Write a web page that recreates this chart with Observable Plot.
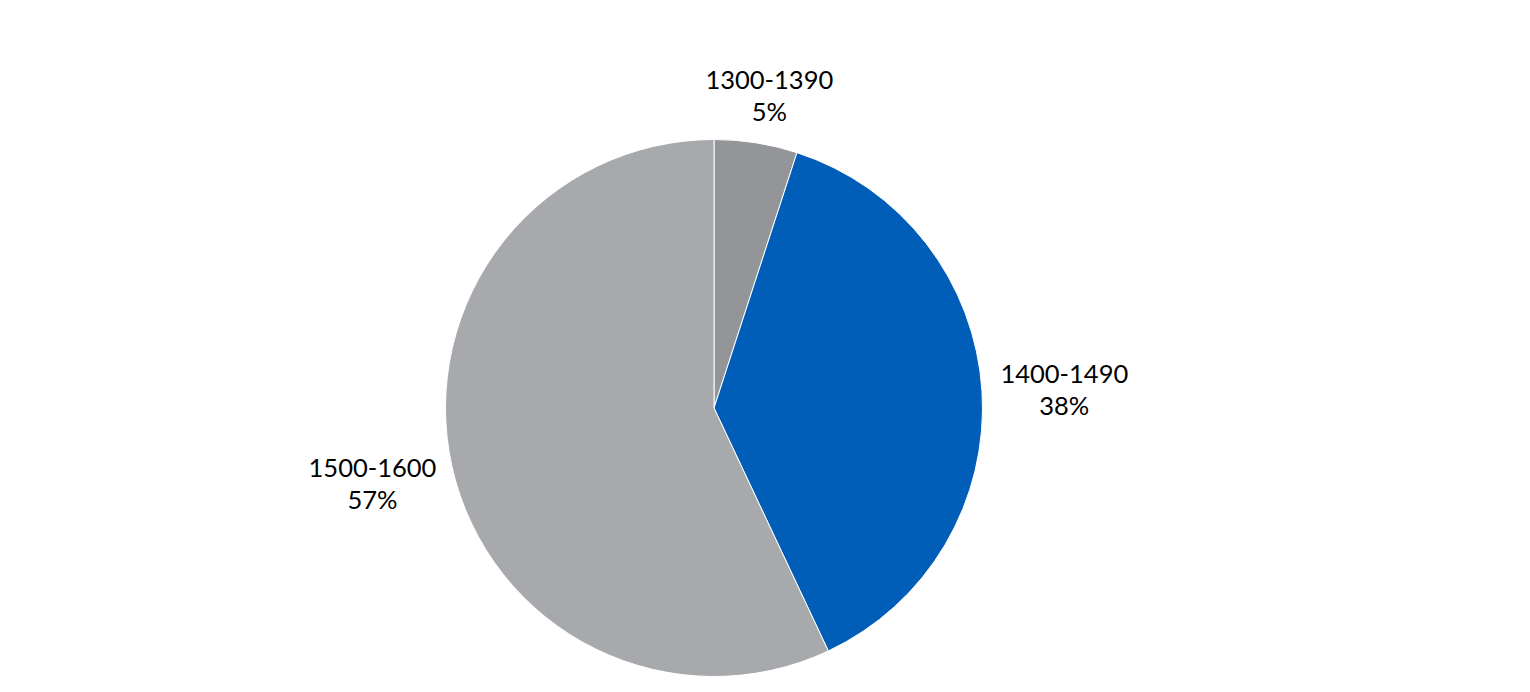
<!DOCTYPE html>
<html>
<head>
<meta charset="utf-8">
<script src="https://cdn.jsdelivr.net/npm/d3@7"></script>
<script src="https://cdn.jsdelivr.net/npm/@observablehq/plot@0.6"></script>
<style>
  html, body { margin: 0; padding: 0; background: #fff; }
  #chart svg { display: block; }
</style>
</head>
<body>
<div id="chart"></div>
<script>
const categories = ["1300-1390", "1400-1490", "1500-1600"];
const shares = [5, 38, 57];
const colors = ["#939598", "#005EB8", "#A7A9AC"];

const W = 1530, H = 692;
const cx = 714, cy = 408, R = 268.5;
const fontFamily = "Lato, 'Open Sans', sans-serif";

const data = categories.map((c, i) => ({ category: c, share: shares[i], color: colors[i] }));
const arcs = d3.pie().sort(null).value(d => d.share)(data);

// label positions (outside end, Excel-like)
const pad = 14, boxW = 136, boxH = 70;
const labels = arcs.map(a => {
  const m = (a.startAngle + a.endAngle) / 2;
  const s = Math.sin(m), c = Math.cos(m);
  const px = cx + (R + pad) * s, py = cy - (R + pad) * c;
  return {
    text: `${a.data.category}\n${a.data.share}%`,
    x: px + (boxW / 2) * s,
    y: py - (boxH / 2) * c + (c < -0.1 ? 5 : 0)
  };
});

const pieMark = (index, scales, values, dimensions, context) => {
  const g = d3.create("svg:g").attr("transform", `translate(${cx},${cy})`);
  const arcGen = d3.arc().innerRadius(0).outerRadius(R);
  g.selectAll("path").data(arcs).join("path")
    .attr("d", arcGen)
    .attr("fill", d => d.data.color)
    .attr("stroke", "#fff")
    .attr("stroke-width", 1);
  return g.node();
};

const chart = Plot.plot({
  width: W,
  height: H,
  margin: 0,
  x: { type: "identity", axis: null },
  y: { type: "identity", axis: null },
  style: { background: "#fff" },
  marks: [
    pieMark,
    Plot.text(labels, {
      x: "x", y: "y", text: "text",
      fontSize: 25.5, lineHeight: 1.27,
      fill: "#000", fontFamily,
      textAnchor: "middle"
    })
  ]
});
document.getElementById("chart").appendChild(chart);
</script>
</body>
</html>
